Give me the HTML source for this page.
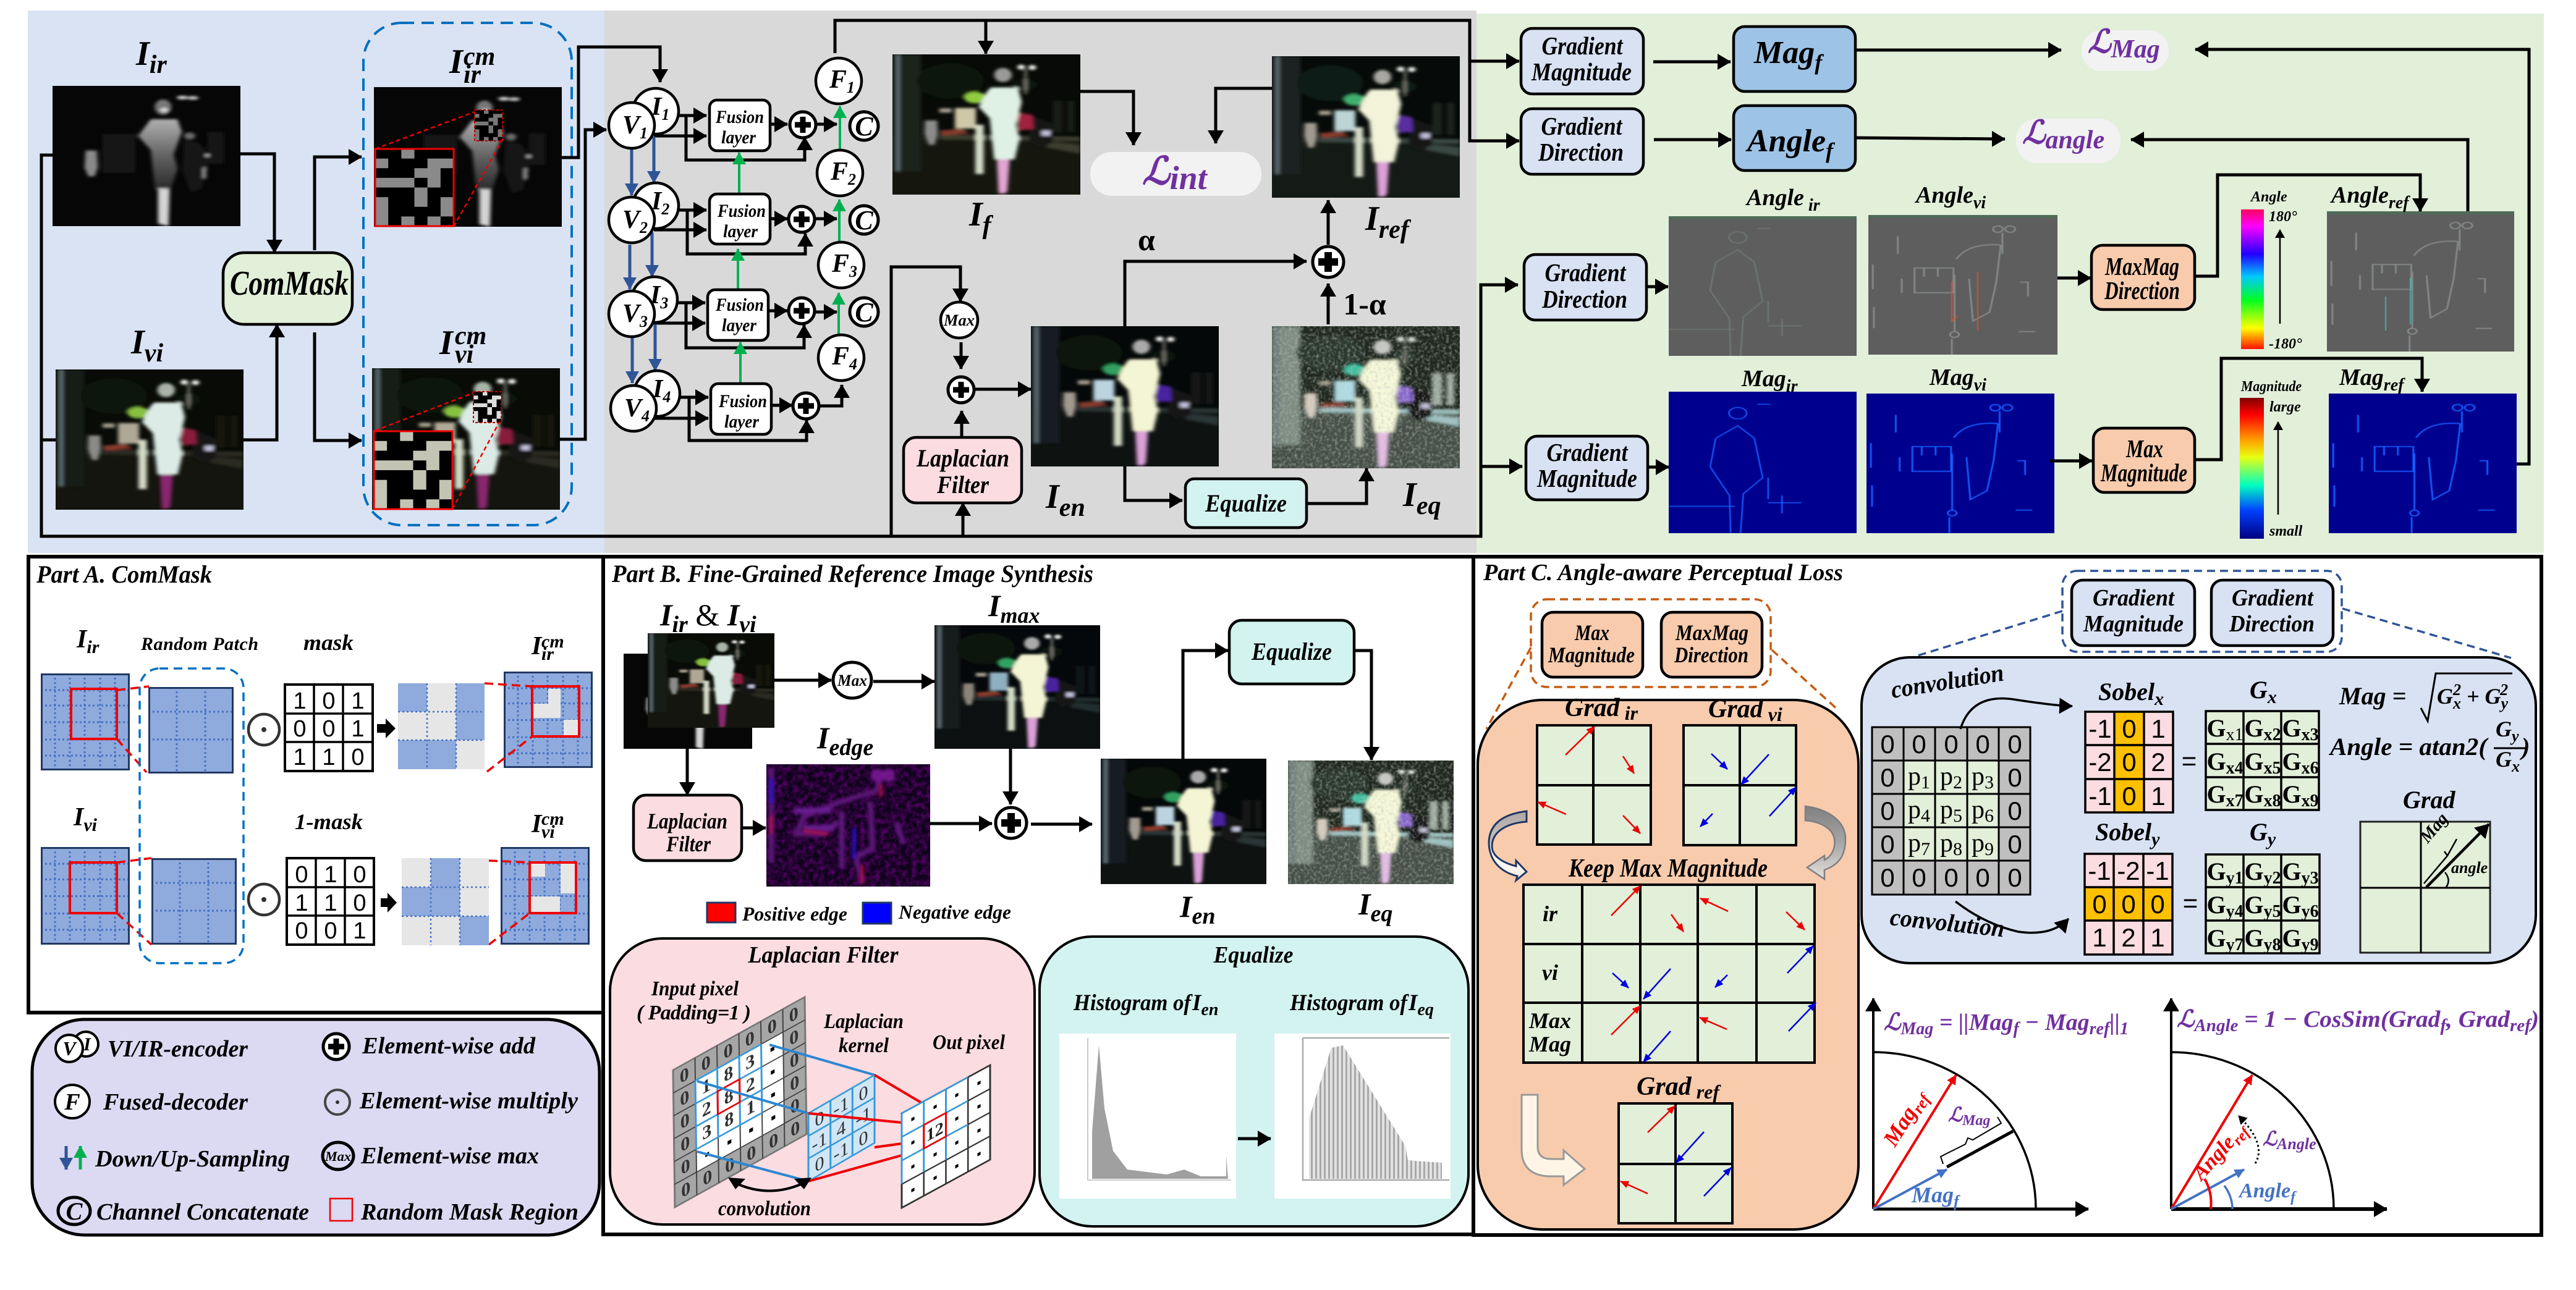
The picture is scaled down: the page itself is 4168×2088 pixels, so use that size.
<!DOCTYPE html>
<html><head><meta charset="utf-8"><style>
html,body{margin:0;padding:0;background:#fff}
svg{display:block}
.b{font-family:"Liberation Serif","DejaVu Serif",serif;font-style:italic;font-weight:bold}
.r{font-family:"Liberation Serif","DejaVu Serif",serif;font-weight:bold}
.s{font-family:"Liberation Sans","DejaVu Sans",sans-serif}
.m{text-anchor:middle}
.l{stroke:#000;stroke-width:5;fill:none}
.bx{stroke:#000;stroke-width:4.5}
.pu{fill:#7030a0}
</style></head><body>
<svg xmlns="http://www.w3.org/2000/svg" width="4168" height="2088" viewBox="0 0 4168 2088">
<defs>
<marker id="a" markerUnits="userSpaceOnUse" markerWidth="22" markerHeight="26" viewBox="0 0 22 26" refX="21" refY="13" orient="auto"><path d="M0 0L22 13L0 26z"/></marker>
<marker id="ab" markerUnits="userSpaceOnUse" markerWidth="20" markerHeight="22" viewBox="0 0 20 22" refX="19" refY="11" orient="auto"><path d="M0 0L20 11L0 22z" fill="#2f5597"/></marker>
<marker id="ag" markerUnits="userSpaceOnUse" markerWidth="20" markerHeight="22" viewBox="0 0 20 22" refX="19" refY="11" orient="auto"><path d="M0 0L20 11L0 22z" fill="#00b050"/></marker>
<marker id="ar" markerUnits="userSpaceOnUse" markerWidth="14" markerHeight="12" viewBox="0 0 14 12" refX="13" refY="6" orient="auto"><path d="M0 0L14 6L0 12z" fill="#e00"/></marker>
<marker id="au" markerUnits="userSpaceOnUse" markerWidth="14" markerHeight="12" viewBox="0 0 14 12" refX="13" refY="6" orient="auto"><path d="M0 0L14 6L0 12z" fill="#00d"/></marker>
<marker id="as" markerUnits="userSpaceOnUse" markerWidth="14" markerHeight="16" viewBox="0 0 14 16" refX="13" refY="8" orient="auto"><path d="M0 0L14 8L0 16z"/></marker>
<marker id="al" markerUnits="userSpaceOnUse" markerWidth="16" markerHeight="16" viewBox="0 0 16 16" refX="15" refY="8" orient="auto"><path d="M0 0L16 8L0 16z" fill="#4472c4"/></marker>
<marker id="are" markerUnits="userSpaceOnUse" markerWidth="16" markerHeight="16" viewBox="0 0 16 16" refX="15" refY="8" orient="auto"><path d="M0 0L16 8L0 16z" fill="#e00"/></marker>
<filter id="bl" x="-5%" y="-5%" width="110%" height="110%"><feGaussianBlur stdDeviation="3.500"/></filter>
<filter id="bs" x="-10%" y="-10%" width="120%" height="120%"><feGaussianBlur stdDeviation="1"/></filter>
<filter id="be" x="-5%" y="-5%" width="110%" height="110%"><feGaussianBlur stdDeviation="3"/></filter>
<filter id="noi" x="0" y="0" width="100%" height="100%"><feTurbulence type="fractalNoise" baseFrequency=".2" numOctaves="2" seed="4"/><feColorMatrix values="0 0 0 0 .5  0 0 0 0 .56  0 0 0 0 .52  1.2 0 0 0 -.52"/></filter>
<filter id="noe" x="0" y="0" width="100%" height="100%"><feTurbulence type="fractalNoise" baseFrequency=".12" numOctaves="2" seed="9"/><feColorMatrix values="0 0 0 0 .3  0 0 0 0 0  0 0 0 0 .42  1.2 0 0 0 -.46"/></filter>
<linearGradient id="ang" x1="0" y1="0" x2="0" y2="1"><stop offset="0" stop-color="#ff0060"/><stop offset=".12" stop-color="#ff00ff"/><stop offset=".32" stop-color="#2000ff"/><stop offset=".48" stop-color="#00c8ff"/><stop offset=".65" stop-color="#00ff20"/><stop offset=".85" stop-color="#ffff00"/><stop offset="1" stop-color="#ff1000"/></linearGradient>
<linearGradient id="mg" x1="0" y1="0" x2="0" y2="1"><stop offset="0" stop-color="#800000"/><stop offset=".12" stop-color="#ff0000"/><stop offset=".3" stop-color="#ffa000"/><stop offset=".42" stop-color="#e8ff10"/><stop offset=".62" stop-color="#00ffc0"/><stop offset=".8" stop-color="#0040ff"/><stop offset="1" stop-color="#000080"/></linearGradient>
<linearGradient id="cg" x1="0" y1="0" x2="0" y2="1"><stop offset="0" stop-color="#b0a8a4"/><stop offset=".45" stop-color="#c8c0bc"/><stop offset=".55" stop-color="#fff"/><stop offset="1" stop-color="#fbeee4"/></linearGradient>
<linearGradient id="cg2" x1="0" y1="0" x2="0" y2="1"><stop offset="0" stop-color="#808080"/><stop offset=".5" stop-color="#a6a6a6"/><stop offset="1" stop-color="#e4e0dc"/></linearGradient>
<linearGradient id="irb" x1="0" y1="0" x2="0" y2="1"><stop offset="0" stop-color="#b0b0b0"/><stop offset=".55" stop-color="#5e5e5e"/><stop offset="1" stop-color="#2a2a2a"/></linearGradient>
<pattern id="st" width="7" height="10" patternUnits="userSpaceOnUse"><rect width="7" height="10" fill="#e2e2e2"/><rect width="3" height="10" fill="#a8a8a8"/></pattern>

<symbol id="ir" viewBox="0 0 340 395" preserveAspectRatio="none">
<rect width="340" height="395" fill="#060606"/>
<g filter="url(#bl)">
<rect x="90" y="135" width="60" height="110" fill="#141414"/>
<rect x="280" y="130" width="30" height="90" fill="#121212"/>
<ellipse cx="235" cy="33" rx="10" ry="5" fill="#e0e0e0"/><ellipse cx="254" cy="34" rx="10" ry="5" fill="#d0d0d0"/>
<path d="M155 141L178 94L226 94L234 129L219 193L226 233L215 286L185 292L178 181z" fill="url(#irb)"/>
<ellipse cx="200" cy="60" rx="15" ry="22" fill="#787878"/><ellipse cx="202" cy="68" rx="7" ry="6" fill="#dcdcdc"/>
<path d="M191 289L212 289L210 395L191 388z" fill="#d4d4d4"/>
<path d="M60 182L80 182L82 230L76 255L65 255L58 230z" fill="#8a8a8a"/>
<circle cx="248" cy="141" r="10" fill="#6a6a6a"/><path d="M238 155L265 160L285 200L270 290L250 300L235 240z" fill="#161616"/>
<circle cx="280" cy="196" r="4" fill="#bbb"/><rect x="272" y="230" width="6" height="30" fill="#999"/>
</g></symbol>

<symbol id="sc" viewBox="0 0 340 395" preserveAspectRatio="none">
<rect width="340" height="395" style="fill:var(--bg)"/>
<rect y="232" width="340" height="163" style="fill:var(--rd)"/>
<g filter="url(#bl)">
<rect x="0" y="0" width="52" height="330" style="fill:var(--wl)"/>
<rect x="7" y="0" width="6" height="330" fill="#64747a"/>
<ellipse cx="105" cy="75" rx="60" ry="50" style="fill:var(--tr)"/>
<ellipse cx="240" cy="85" rx="22" ry="16" style="fill:var(--tr)"/>
<ellipse cx="150" cy="122" rx="20" ry="16" style="fill:var(--gl)"/>
<path d="M290 130h18v90h-18zM316 130h14v90h-14z" style="fill:var(--col)"/>
<path d="M279 244L340 254V280L279 262z" style="fill:var(--sw)"/>
<path d="M85 225L340 232V245L85 240z" style="fill:var(--sw)"/>
<path d="M85 152h22v12h-22z" fill="#a8a090"/>
<rect x="113" y="151" width="38" height="58" style="fill:var(--van)"/>
<path d="M85 215L125 210L140 222L90 228z" fill="#8a3a2a"/>
<path d="M59 186L81 186L82 225L76 255L66 255L58 225z" style="fill:var(--pp)"/>
<circle cx="233" cy="36" r="7" fill="#f4f4f0"/><circle cx="253" cy="37" r="7" fill="#f4f4f0"/><rect x="239" y="42" width="4" height="70" fill="#8a8a80"/>
<rect x="150" y="198" width="15" height="139" fill="#d4dcc6"/>
<path d="M253 172L290 195L290 250L262 262L246 240z" fill="#181414"/><rect x="270" y="215" width="16" height="14" fill="#c0c0d8"/>
<path d="M225 163L253 170L255 210L228 215z" style="fill:var(--bag)"/>
<path d="M171 105L178 93L227 93L234 134L224 198L230 238L221 296L184 296L176 180L156 148z" style="fill:var(--bd)"/>
<ellipse cx="200" cy="58" rx="16" ry="20" style="fill:var(--hd)"/>
<path d="M189 296L212 296L208 385L204 392L192 392z" style="fill:var(--lg)"/>
</g></symbol>

<symbol id="edA" viewBox="0 0 340 395" preserveAspectRatio="none">
<rect width="340" height="395" style="fill:var(--bg)"/>
<rect width="340" height="8" style="fill:var(--tp)"/>
<g fill="none" stroke-width="2.500" filter="url(#bs)" style="stroke:var(--ed)">
<circle cx="125" cy="60" r="16"/><path d="M160 35h24M85 130L125 95L155 130L170 240L135 285L130 395M85 130L75 210L110 290L112 395M180 240v60M205 290v50M0 320h120M180 310h60"/>
</g></symbol>

<symbol id="edB" viewBox="0 0 340 395" preserveAspectRatio="none">
<rect width="340" height="395" style="fill:var(--bg)"/>
<rect width="340" height="8" style="fill:var(--tp)"/>
<g fill="none" stroke-width="3" filter="url(#bs)" style="stroke:var(--ed)">
<circle cx="233" cy="40" r="9"/><circle cx="255" cy="40" r="9"/>
<path d="M241 50V110M158 125Q180 78 238 85M238 85L230 190L218 275L188 300L181 180M155 170V330M147 338a8 8 0 1 0 16 0a8 8 0 1 0 -16 0M83 150h70v70H83zM8 140V210M53 60V110M273 190h14v40M60 180v40M100 150v25M125 150v25M10 260V320M150 395V350M270 330h30"/>
</g></symbol>

<symbol id="chk" viewBox="0 0 6 8" preserveAspectRatio="none">
<path d="M0 0h2v1h-2zM3 0h3v1h-3zM1 1h1v1h-1zM2 1h2v1h-2zM0 2h3v1h-3zM5 2h1v1h-1zM3 3h1v1h-1zM5 3h1v1h-1zM0 4h3v1h-3zM4 4h2v1h-2zM1 5h2v1h-2zM4 5h1v1h-1zM1 6h4v1h-4zM1 7h1v1h-1zM3 7h1v1h-1zM5 7h1v1h-1z" fill="#000"/>
</symbol>

<symbol id="tile" viewBox="0 0 144 157" preserveAspectRatio="none">
<rect width="144" height="157" fill="#8faadc"/>
<path d="M23 0V157M47 0V157M71 0V157M96 0V157M120 0V157M0 27H144M0 52H144M0 79H144M0 107H144M0 133H144" stroke="#4472c4" stroke-width="3" stroke-dasharray="3 4"/>
<rect x="1.500" y="1.500" width="141" height="154" fill="none" stroke="#203864" stroke-width="3"/>
</symbol>
<symbol id="pat" viewBox="0 0 138 140" preserveAspectRatio="none">
<rect width="138" height="140" fill="#8faadc"/>
<path d="M46 0V140M92 0V140M0 40H138M0 85H138" stroke="#4472c4" stroke-width="3" stroke-dasharray="3 4"/>
<rect x="1.500" y="1.500" width="135" height="137" fill="none" stroke="#203864" stroke-width="3"/>
</symbol>

<g id="p"><circle r="21" fill="#fff" stroke="#000" stroke-width="5"/><path d="M-4.500 -13h9v8.500h8.500v9h-8.500v8.500h-9v-8.500h-8.500v-9h8.500z"/></g>
<g id="pb"><circle r="25" fill="#fff" stroke="#000" stroke-width="5"/><path d="M-6 -16h12v10h10v12h-10v10h-12v-10h-10v-12h10z"/></g>
<g id="od"><circle r="25" fill="#fff" stroke="#333" stroke-width="4.500"/><circle r="4" fill="#333"/></g>
<g id="cc"><circle r="23" fill="#fff" stroke="#000" stroke-width="5"/><text class="b m" y="15" font-size="44">C</text></g>
</defs>

<rect width="4168" height="2088" fill="#fff"/>
<!-- panels -->
<rect x="45" y="17" width="933" height="878" fill="#dae3f3"/>
<rect x="978" y="17" width="1411" height="878" fill="#d9d9d9"/>
<rect x="2389" y="22" width="1727" height="873" fill="#e2efd9"/>

<!-- left images -->
<use href="#ir" x="85" y="139" width="304" height="227"/>
<use href="#sc" x="90" y="598" width="304" height="227" style="--bg:#080b06;--rd:#14150e;--wl:#181c14;--tr:#10180a;--gl:#88c040;--col:#141410;--sw:#2c2c20;--van:#b0a896;--pp:#8a8a88;--bag:#8a1a3c;--bd:#dcebe6;--hd:#a8b4a8;--lg:#8a2870"/>
<use href="#ir" x="605" y="141" width="304" height="226"/>
<use href="#sc" x="602" y="596" width="304" height="229" style="--bg:#080b06;--rd:#14150e;--wl:#181c14;--tr:#10180a;--gl:#88c040;--col:#141410;--sw:#2c2c20;--van:#b0a896;--pp:#8a8a88;--bag:#8a1a3c;--bd:#dcebe6;--hd:#a8b4a8;--lg:#8a2870"/>
<text class="b" x="220" y="105" font-size="56">I<tspan dy="13" font-size="42">ir</tspan></text>
<text class="b" x="212" y="572" font-size="56">I<tspan dy="13" font-size="42">vi</tspan></text>
<text class="b" x="727" y="118" font-size="56">I</text><text class="b" x="750" y="105" font-size="42">cm</text><text class="b" x="750" y="134" font-size="42">ir</text>
<text class="b" x="711" y="573" font-size="56">I</text><text class="b" x="736" y="557" font-size="42">cm</text><text class="b" x="736" y="587" font-size="42">vi</text>

<rect x="607" y="241" width="127" height="125" fill="#8a8a8a"/><use href="#chk" x="607" y="241" width="127" height="125"/>
<rect x="607" y="241" width="127" height="125" fill="none" stroke="#e00" stroke-width="3"/>
<rect x="768" y="178" width="45" height="50" fill="#777"/><use href="#chk" x="768" y="178" width="45" height="50"/>
<rect x="768" y="178" width="45" height="50" fill="none" stroke="#b00" stroke-width="2" stroke-dasharray="4 3"/>
<path d="M607 241L768 181M734 367L814 224" stroke="#e00" stroke-width="2.500" stroke-dasharray="7 5" fill="none"/>
<rect x="605" y="698" width="127" height="126" fill="#c4c4b4"/><use href="#chk" x="605" y="698" width="127" height="126"/>
<rect x="605" y="698" width="127" height="126" fill="none" stroke="#e00" stroke-width="3"/>
<rect x="766" y="634" width="45" height="50" fill="#ddd"/><use href="#chk" x="766" y="634" width="45" height="50"/>
<rect x="766" y="634" width="45" height="50" fill="none" stroke="#b00" stroke-width="2" stroke-dasharray="4 3"/>
<path d="M607 697L766 636M732 824L808 683" stroke="#e00" stroke-width="2.500" stroke-dasharray="7 5" fill="none"/>
<rect x="588" y="37" width="337" height="813" rx="62" fill="none" stroke="#0070c0" stroke-width="4" stroke-dasharray="20 12"/>
<rect x="361" y="409" width="209" height="116" rx="34" fill="#e2efd9" class="bx"/>
<text class="b m" x="468" y="477" font-size="56" textLength="192" lengthAdjust="spacingAndGlyphs">ComMask</text>

<!-- left connectors -->
<path class="l" d="M389 249H444V409" marker-end="url(#a)"/>
<path class="l" d="M394 712H448V525" marker-end="url(#a)"/>
<path class="l" d="M509 405V254H585" marker-end="url(#a)"/>
<path class="l" d="M509 538V713H585" marker-end="url(#a)"/>
<path class="l" d="M85 251H67V868H1561M67 712H90"/>
<path class="l" d="M1442 868H2396V461H2456" marker-end="url(#a)"/>
<path class="l" d="M2396 755H2463" marker-end="url(#a)"/>
<path class="l" d="M909 255H936V76H1068V133" marker-end="url(#a)"/>
<path class="l" d="M906 711H947V210H981" marker-end="url(#a)"/>

<!-- encoder connectors -->
<g id="rows">
<path class="l" d="M1098 187H1143" marker-end="url(#a)"/><path class="l" d="M1058 220H1143" marker-end="url(#a)"/>
<path class="l" d="M1110 187V259H1302V222" marker-end="url(#a)"/><path class="l" d="M1246 201H1274" marker-end="url(#a)"/><path class="l" d="M1322 201H1354" marker-end="url(#a)"/>
<path class="l" d="M1098 340H1143" marker-end="url(#a)"/><path class="l" d="M1058 372H1143" marker-end="url(#a)"/>
<path class="l" d="M1112 340V411H1303V378" marker-end="url(#a)"/><path class="l" d="M1246 354H1274" marker-end="url(#a)"/><path class="l" d="M1320 354H1354" marker-end="url(#a)"/>
<path class="l" d="M1096 490H1141" marker-end="url(#a)"/><path class="l" d="M1056 523H1141" marker-end="url(#a)"/>
<path class="l" d="M1110 490V563H1301V526" marker-end="url(#a)"/><path class="l" d="M1243 503H1274" marker-end="url(#a)"/><path class="l" d="M1320 505H1354" marker-end="url(#a)"/>
<path class="l" d="M1100 643H1146" marker-end="url(#a)"/><path class="l" d="M1060 677H1146" marker-end="url(#a)"/>
<path class="l" d="M1115 643V713H1305V680" marker-end="url(#a)"/><path class="l" d="M1248 656H1282" marker-end="url(#a)"/><path class="l" d="M1327 657H1362V623" marker-end="url(#a)"/>
</g>
<g fill="none" stroke="#2f5597" stroke-width="5">
<path d="M1022 241V316" marker-end="url(#ab)"/><path d="M1058 221V296" marker-end="url(#ab)"/>
<path d="M1019 396V468" marker-end="url(#ab)"/><path d="M1055 376V448" marker-end="url(#ab)"/>
<path d="M1023 545V620" marker-end="url(#ab)"/><path d="M1060 525V600" marker-end="url(#ab)"/>
</g>
<g fill="none" stroke="#00b050" stroke-width="4">
<path d="M1196 313V247" marker-end="url(#ag)"/><path d="M1194 468V403" marker-end="url(#ag)"/><path d="M1198 620V554" marker-end="url(#ag)"/>
<path d="M1359 241V172" marker-end="url(#ag)"/><path d="M1358 390V323" marker-end="url(#ag)"/><path d="M1357 541V474" marker-end="url(#ag)"/>
</g>
<!-- encoder circles -->
<g fill="#fff" stroke="#000" stroke-width="4.500">
<circle cx="1061" cy="180" r="37"/><circle cx="1022" cy="203" r="37"/>
<circle cx="1061" cy="333" r="37"/><circle cx="1022" cy="356" r="37"/>
<circle cx="1059" cy="485" r="37"/><circle cx="1022" cy="508" r="37"/>
<circle cx="1063" cy="637" r="37"/><circle cx="1025" cy="661" r="37"/>
<circle cx="1357" cy="131" r="37"/><circle cx="1359" cy="280" r="37"/><circle cx="1361" cy="429" r="37"/><circle cx="1361" cy="579" r="37"/>
<rect x="1148" y="162" width="98" height="82" rx="12"/><rect x="1148" y="314" width="98" height="81" rx="12"/><rect x="1145" y="469" width="98" height="82" rx="12"/><rect x="1150" y="621" width="98" height="82" rx="12"/>
</g>
<g class="b" font-size="42">
<text x="1054" y="186">I<tspan dy="8" font-size="26">1</tspan></text><text x="1007" y="216">V<tspan dy="8" font-size="26">1</tspan></text>
<text x="1054" y="339">I<tspan dy="8" font-size="26">2</tspan></text><text x="1007" y="369">V<tspan dy="8" font-size="26">2</tspan></text>
<text x="1052" y="491">I<tspan dy="8" font-size="26">3</tspan></text><text x="1007" y="521">V<tspan dy="8" font-size="26">3</tspan></text>
<text x="1056" y="643">I<tspan dy="8" font-size="26">4</tspan></text><text x="1010" y="674">V<tspan dy="8" font-size="26">4</tspan></text>
<text x="1342" y="142">F<tspan dy="8" font-size="26">1</tspan></text><text x="1344" y="291">F<tspan dy="8" font-size="26">2</tspan></text><text x="1346" y="440">F<tspan dy="8" font-size="26">3</tspan></text><text x="1346" y="590">F<tspan dy="8" font-size="26">4</tspan></text>
</g>
<g class="b m" font-size="30">
<text x="1197" y="199" textLength="78" lengthAdjust="spacingAndGlyphs">Fusion</text><text x="1195" y="232" textLength="56" lengthAdjust="spacingAndGlyphs">layer</text>
<text x="1200" y="351" textLength="78" lengthAdjust="spacingAndGlyphs">Fusion</text><text x="1198" y="384" textLength="56" lengthAdjust="spacingAndGlyphs">layer</text>
<text x="1197" y="503" textLength="78" lengthAdjust="spacingAndGlyphs">Fusion</text><text x="1196" y="536" textLength="56" lengthAdjust="spacingAndGlyphs">layer</text>
<text x="1202" y="659" textLength="78" lengthAdjust="spacingAndGlyphs">Fusion</text><text x="1200" y="692" textLength="56" lengthAdjust="spacingAndGlyphs">layer</text>
</g>
<use href="#p" x="1299" y="202"/><use href="#p" x="1297" y="355"/><use href="#p" x="1297" y="503"/><use href="#p" x="1304" y="657"/>
<use href="#cc" x="1398" y="204"/><use href="#cc" x="1398" y="356"/><use href="#cc" x="1398" y="505"/>

<!-- middle -->
<path class="l" d="M1351 86V33H2378V228H2458" marker-end="url(#a)"/>
<path class="l" d="M2378 99H2458" marker-end="url(#a)"/>
<path class="l" d="M1595 33V87" marker-end="url(#a)"/>
<use href="#sc" x="1444" y="88" width="304" height="227" style="--bg:#070a06;--rd:#15170f;--wl:#1c201a;--tr:#0e1809;--gl:#90cc40;--col:#181a12;--sw:#3e3e2e;--van:#cfc8a8;--pp:#8c8c8c;--bag:#a02040;--bd:#dff0e4;--hd:#9a9a98;--lg:#e4a4d4"/>
<use href="#sc" x="2058" y="91" width="304" height="229" style="--bg:#060a08;--rd:#141a16;--wl:#1e2422;--tr:#0c1a12;--gl:#40b070;--col:#1c201a;--sw:#3a4844;--van:#bcd4d4;--pp:#a09a90;--bag:#5a2fa0;--bd:#f2f3d8;--hd:#a8a8a0;--lg:#dca0d8"/>
<use href="#sc" x="1668" y="528" width="304" height="227" style="--bg:#050808;--rd:#0e1211;--wl:#181e20;--tr:#0a1810;--gl:#30a060;--col:#141816;--sw:#2c3634;--van:#bcd4e0;--pp:#a09a90;--bag:#4a20a0;--bd:#f4f5d4;--hd:#aaa;--lg:#dca0d8"/>
<use href="#sc" x="2058" y="528" width="304" height="230" style="--bg:#20281f;--rd:#465048;--wl:#7e8c82;--tr:#2c382e;--gl:#40c0a0;--col:#a0aca0;--sw:#9cc0c0;--van:#b0dce4;--pp:#d8ccc0;--bag:#8a68d0;--bd:#f6f8d8;--hd:#c8c8c4;--lg:#e8bce8"/>
<rect x="2058" y="528" width="304" height="230" filter="url(#noi)"/>
<rect x="1764" y="246" width="277" height="71" rx="35" fill="#f2f2f2"/>
<text class="b pu" x="1848" y="298" font-size="62">ℒ<tspan dy="8" font-size="54">int</tspan></text>
<path class="l" d="M1748 148H1834V235" marker-end="url(#a)"/>
<path class="l" d="M2058 143H1967V232" marker-end="url(#a)"/>
<text class="b" x="1568" y="365" font-size="56">I<tspan dy="13" font-size="42">f</tspan></text>
<text class="b" x="2209" y="372" font-size="56">I<tspan dy="13" font-size="42">ref</tspan></text>
<text class="r m" x="1855" y="405" font-size="50">α</text>
<text class="r m" x="2208" y="509" font-size="50">1-α</text>
<use href="#pb" x="2149" y="424"/>
<path class="l" d="M1820 528V423H2114" marker-end="url(#a)"/>
<path class="l" d="M2149 525V459" marker-end="url(#a)"/>
<path class="l" d="M2149 396V324" marker-end="url(#a)"/>
<path class="l" d="M1442 868V432H1554V488" marker-end="url(#a)"/>
<ellipse cx="1552" cy="518" rx="30" ry="29" fill="#fff" stroke="#000" stroke-width="4.500"/>
<text class="b m" x="1552" y="527" font-size="26" textLength="50" lengthAdjust="spacingAndGlyphs">Max</text>
<path class="l" d="M1555 554V597" marker-end="url(#a)"/>
<use href="#p" x="1555" y="631"/>
<path class="l" d="M1576 630H1668" marker-end="url(#a)"/>
<rect x="1462" y="708" width="191" height="106" rx="20" fill="#fadce1" class="bx"/>
<text class="b m" x="1558" y="755" font-size="40" textLength="150" lengthAdjust="spacingAndGlyphs">Laplacian</text><text class="b m" x="1558" y="798" font-size="40" textLength="84" lengthAdjust="spacingAndGlyphs">Filter</text>
<path class="l" d="M1556 708V665" marker-end="url(#a)"/>
<path class="l" d="M1558 868V814" marker-end="url(#a)"/>
<path class="l" d="M1820 755V810H1913" marker-end="url(#a)"/>
<rect x="1918" y="775" width="196" height="79" rx="14" fill="#d3f3f0" class="bx"/>
<text class="b m" x="2016" y="828" font-size="40" textLength="132" lengthAdjust="spacingAndGlyphs">Equalize</text>
<path class="l" d="M2114 815H2211V758" marker-end="url(#a)"/>
<text class="b" x="1692" y="822" font-size="56">I<tspan dy="13" font-size="42">en</tspan></text>
<text class="b" x="2270" y="819" font-size="56">I<tspan dy="13" font-size="42">eq</tspan></text>

<!-- right -->
<g fill="#d9e2f3" class="bx">
<rect x="2461" y="46" width="198" height="106" rx="18"/><rect x="2461" y="176" width="198" height="106" rx="18"/>
<rect x="2466" y="412" width="198" height="106" rx="18"/><rect x="2469" y="706" width="197" height="103" rx="18"/>
</g>
<g class="b m" font-size="41">
<text x="2560" y="88" textLength="131" lengthAdjust="spacingAndGlyphs">Gradient</text><text x="2559" y="130" textLength="162" lengthAdjust="spacingAndGlyphs">Magnitude</text>
<text x="2559" y="218" textLength="131" lengthAdjust="spacingAndGlyphs">Gradient</text><text x="2558" y="260" textLength="138" lengthAdjust="spacingAndGlyphs">Direction</text>
<text x="2565" y="455" textLength="131" lengthAdjust="spacingAndGlyphs">Gradient</text><text x="2564" y="498" textLength="138" lengthAdjust="spacingAndGlyphs">Direction</text>
<text x="2568" y="746" textLength="131" lengthAdjust="spacingAndGlyphs">Gradient</text><text x="2568" y="788" textLength="162" lengthAdjust="spacingAndGlyphs">Magnitude</text>
</g>
<path class="l" d="M2675 100H2800" marker-end="url(#a)"/>
<path class="l" d="M2676 226H2801" marker-end="url(#a)"/>
<path class="l" d="M2664 464H2699" marker-end="url(#a)"/>
<path class="l" d="M2666 756H2700" marker-end="url(#a)"/>
<rect x="2805" y="43" width="197" height="105" rx="18" fill="#9dc3e6" class="bx"/>
<rect x="2805" y="171" width="197" height="105" rx="18" fill="#9dc3e6" class="bx"/>
<text class="b" x="2838" y="102" font-size="52">Mag<tspan dy="11" font-size="36">f</tspan></text>
<text class="b" x="2827" y="245" font-size="52">Angle<tspan dy="11" font-size="36">f</tspan></text>
<rect x="3368" y="49" width="141" height="66" rx="32" fill="#f2f2f2"/>
<rect x="3262" y="192" width="169" height="72" rx="34" fill="#f2f2f2"/>
<text class="b pu" x="3378" y="85" font-size="52">ℒ<tspan dy="8" font-size="42">Mag</tspan></text>
<text class="b pu" x="3272" y="232" font-size="52">ℒ<tspan dy="8" font-size="42">angle</tspan></text>
<path class="l" d="M3002 81H3335" marker-end="url(#a)"/>
<path class="l" d="M3002 223L3244 225" marker-end="url(#a)"/>
<path class="l" d="M4072 751H4092V80H3552" marker-end="url(#a)"/>
<path class="l" d="M3993 344V226H3448" marker-end="url(#a)"/>

<g style="--bg:#5e5e5e;--tp:#4e6c58;--ed:#6e7a72"><use href="#edA" x="2700" y="350" width="304" height="226"/></g>
<g style="--bg:#5e5e5e;--tp:#4e6c58;--ed:#868c8a"><use href="#edB" x="3023" y="348" width="306" height="226"/><use href="#edB" x="3765" y="342" width="303" height="227"/></g>
<g style="--bg:#00008e;--tp:#00008e;--ed:#1760ff"><use href="#edA" x="2700" y="634" width="304" height="229"/><use href="#edB" x="3020" y="637" width="304" height="226"/><use href="#edB" x="3768" y="637" width="304" height="226"/></g>
<path d="M3158 455V520l8-8M3200 440V535" stroke="#e05030" stroke-width="2.500" fill="none" opacity=".7"/>
<path d="M3900 450V525M3860 480V535" stroke="#40c8c0" stroke-width="2.500" fill="none" opacity=".6"/>

<g class="b" font-size="38">
<text x="2826" y="332">Angle<tspan dy="9" font-size="28"> ir</tspan></text>
<text x="3100" y="328">Angle<tspan dy="9" font-size="28">vi</tspan></text>
<text x="3772" y="328">Angle<tspan dy="9" font-size="28">ref</tspan></text>
<text x="2818" y="625">Mag<tspan dy="9" font-size="28">ir</tspan></text>
<text x="3122" y="623">Mag<tspan dy="9" font-size="28">vi</tspan></text>
<text x="3785" y="623">Mag<tspan dy="9" font-size="28">ref</tspan></text>
</g>
<rect x="3384" y="397" width="167" height="104" rx="18" fill="#f8cbad" class="bx"/>
<rect x="3387" y="693" width="164" height="104" rx="18" fill="#f8cbad" class="bx"/>
<g class="b m" font-size="41">
<text x="3466" y="445" textLength="120" lengthAdjust="spacingAndGlyphs">MaxMag</text><text x="3466" y="484" textLength="122" lengthAdjust="spacingAndGlyphs">Direction</text>
<text x="3470" y="740" textLength="60" lengthAdjust="spacingAndGlyphs">Max</text><text x="3469" y="779" textLength="140" lengthAdjust="spacingAndGlyphs">Magnitude</text>
</g>
<path class="l" d="M3329 450H3383" marker-end="url(#a)"/>
<path class="l" d="M3317 746H3385" marker-end="url(#a)"/>
<path class="l" d="M3551 447H3588V283H3916V342" marker-end="url(#a)"/>
<path class="l" d="M3551 744H3594V580H3919V634" marker-end="url(#a)"/>
<rect x="3626" y="339" width="37" height="226" fill="url(#ang)"/>
<rect x="3624" y="644" width="39" height="228" fill="url(#mg)"/>
<path d="M3689 524V372" stroke="#000" stroke-width="2.500" marker-end="url(#as)" fill="none"/>
<path d="M3686 833V683" stroke="#000" stroke-width="2.500" marker-end="url(#as)" fill="none"/>
<g class="b" font-size="24">
<text x="3642" y="326">Angle</text><text x="3671" y="358">180°</text><text x="3671" y="564">-180°</text>
<text x="3626" y="633" textLength="98" lengthAdjust="spacingAndGlyphs">Magnitude</text><text x="3672" y="666">large</text><text x="3672" y="867">small</text>
</g>

<!-- Part boxes -->
<g fill="none" stroke="#000" stroke-width="6">
<rect x="46" y="901" width="930" height="738"/>
<rect x="976" y="901" width="1408" height="1097"/>
<rect x="2384" y="901" width="1728" height="1098"/>
</g>

<!-- Part A -->
<text class="b" x="59" y="943" font-size="40" textLength="284" lengthAdjust="spacingAndGlyphs">Part A. ComMask</text>
<use href="#tile" x="66" y="1090" width="144" height="157"/><use href="#tile" x="66" y="1371" width="144" height="158"/>
<use href="#tile" x="815" y="1087" width="144" height="156"/><use href="#tile" x="810" y="1371" width="144" height="158"/>
<use href="#pat" x="240" y="1112" width="138" height="140"/><use href="#pat" x="245" y="1389" width="138" height="140"/>
<path d="M863 1139H887V1115H907V1162H863zM912 1165h23v27h-23zM858 1398h24v21h-24zM907 1398h23v48h-23zM858 1451h48v25h-48z" fill="#e7e6e6"/>
<g fill="none" stroke="#e00" stroke-width="4">
<rect x="115" y="1115" width="74" height="81"/><rect x="113" y="1396" width="76" height="82"/>
<rect x="861" y="1111" width="76" height="81"/><rect x="857" y="1396" width="75" height="82"/>
<path stroke-dasharray="14 8" d="M189 1117L241 1111M189 1196L237 1250M189 1396L245 1389M189 1478L245 1529M784 1106L861 1111M788 1249L861 1192M791 1393L857 1396M791 1529L857 1478" stroke-width="3.500"/>
</g>
<rect x="226" y="1082" width="168" height="477" rx="32" fill="none" stroke="#0070c0" stroke-width="3.500" stroke-dasharray="14 9"/>
<use href="#od" x="427" y="1181"/><use href="#od" x="427" y="1456"/>
<g fill="#fff" stroke="#000" stroke-width="4">
<rect x="461" y="1108" width="142" height="140"/><rect x="464" y="1389" width="141" height="140"/>
</g>
<path d="M508 1108V1248M555 1108V1248M461 1155H603M461 1201H603M511 1389V1529M558 1389V1529M464 1436H605M464 1482H605" stroke="#000" stroke-width="3.500"/>
<g class="s m" font-size="38">
<text x="485" y="1147">1</text><text x="532" y="1147">0</text><text x="579" y="1147">1</text>
<text x="485" y="1192">0</text><text x="532" y="1192">0</text><text x="579" y="1192">1</text>
<text x="485" y="1238">1</text><text x="532" y="1238">1</text><text x="579" y="1238">0</text>
<text x="488" y="1428">0</text><text x="535" y="1428">1</text><text x="582" y="1428">0</text>
<text x="488" y="1474">1</text><text x="535" y="1474">1</text><text x="582" y="1474">0</text>
<text x="488" y="1519">0</text><text x="535" y="1519">0</text><text x="582" y="1519">1</text>
</g>
<path d="M610 1172h14v-9l16 16l-16 16v-9h-14z"/><path d="M616 1454h11v-9l15 16l-15 16v-9h-11z"/>
<!-- masked patches -->
<g fill="#8faadc">
<rect x="644" y="1106" width="140" height="139"/>
<rect x="650" y="1389" width="141" height="141"/>
</g>
<g fill="#e7e6e6">
<rect x="691" y="1106" width="47" height="46"/><rect x="644" y="1152" width="47" height="46"/><rect x="691" y="1152" width="47" height="46"/><rect x="738" y="1198" width="46" height="47"/>
<rect x="650" y="1389" width="47" height="47"/><rect x="744" y="1389" width="47" height="47"/><rect x="744" y="1436" width="47" height="47"/><rect x="650" y="1483" width="47" height="47"/><rect x="697" y="1483" width="47" height="47"/>
</g>
<path d="M691 1106V1245M738 1106V1245M644 1152H784M644 1198H784M697 1389V1530M744 1389V1530M650 1436H791M650 1483H791" stroke="#4472c4" stroke-width="2.500" stroke-dasharray="3 4"/>
<g class="b">
<text x="124" y="1048" font-size="42">I<tspan dy="9" font-size="30">ir</tspan></text>
<text x="119" y="1336" font-size="42">I<tspan dy="9" font-size="30">vi</tspan></text>
<text x="228" y="1052" font-size="30" textLength="190" lengthAdjust="spacing">Random Patch</text>
<text x="491" y="1052" font-size="36" textLength="81" lengthAdjust="spacingAndGlyphs">mask</text>
<text x="477" y="1342" font-size="36" textLength="110" lengthAdjust="spacingAndGlyphs">1-mask</text>
<text x="860" y="1059" font-size="42">I</text><text x="876" y="1048" font-size="30">cm</text><text x="876" y="1068" font-size="30">ir</text>
<text x="860" y="1347" font-size="42">I</text><text x="876" y="1335" font-size="30">cm</text><text x="876" y="1356" font-size="30">vi</text>
</g>

<!-- Legend -->
<rect x="52" y="1650" width="918" height="349" rx="85" fill="#dcd9f2" stroke="#000" stroke-width="5"/>
<circle cx="139" cy="1690" r="20" fill="#fff" stroke="#000" stroke-width="4"/><circle cx="112" cy="1697" r="22" fill="#fff" stroke="#000" stroke-width="4"/>
<text class="b m" x="141" y="1700" font-size="30">I</text><text class="b m" x="112" y="1708" font-size="32">V</text>
<g class="b" font-size="38">
<text x="174" y="1710" textLength="227" lengthAdjust="spacingAndGlyphs">VI/IR-encoder</text>
<text x="586" y="1705" textLength="280" lengthAdjust="spacingAndGlyphs">Element-wise add</text>
<text x="167" y="1796" textLength="234" lengthAdjust="spacingAndGlyphs">Fused-decoder</text>
<text x="582" y="1794" textLength="353" lengthAdjust="spacingAndGlyphs">Element-wise multiply</text>
<text x="154" y="1888" textLength="315" lengthAdjust="spacingAndGlyphs">Down/Up-Sampling</text>
<text x="584" y="1883" textLength="288" lengthAdjust="spacingAndGlyphs">Element-wise max</text>
<text x="156" y="1974" textLength="344" lengthAdjust="spacingAndGlyphs">Channel Concatenate</text>
<text x="584" y="1974" textLength="352" lengthAdjust="spacingAndGlyphs">Random Mask Region</text>
</g>
<use href="#p" x="544" y="1694"/>
<ellipse cx="117" cy="1783" rx="28" ry="27" fill="#fff" stroke="#000" stroke-width="4"/><text class="b m" x="117" y="1796" font-size="38">F</text>
<circle cx="546" cy="1784" r="20" fill="#fff" fill-opacity="0" stroke="#444" stroke-width="4"/><circle cx="546" cy="1784" r="3" fill="#333"/>
<path d="M107 1855V1893" stroke="#2f5597" stroke-width="5" fill="none" marker-end="url(#ab)"/>
<path d="M130 1893V1855" stroke="#00b050" stroke-width="5" fill="none" marker-end="url(#ag)"/>
<ellipse cx="547" cy="1871" rx="25" ry="22" fill="#fff" fill-opacity="0" stroke="#000" stroke-width="5"/><text class="b m" x="547" y="1879" font-size="22" textLength="42" lengthAdjust="spacingAndGlyphs">Max</text>
<ellipse cx="120" cy="1960" rx="26" ry="22" fill="#fff" fill-opacity="0" stroke="#000" stroke-width="5"/><text class="b m" x="120" y="1974" font-size="40">C</text>
<rect x="534" y="1940" width="36" height="36" fill="none" stroke="#e00" stroke-width="2.500"/>

<!-- Part B -->
<text class="b" x="990" y="942" font-size="40" textLength="779" lengthAdjust="spacingAndGlyphs">Part B. Fine-Grained Reference Image Synthesis</text>
<use href="#ir" x="1009" y="1058" width="208" height="154"/>
<use href="#sc" x="1048" y="1025" width="205" height="153" style="--bg:#080b06;--rd:#14150e;--wl:#181c14;--tr:#10180a;--gl:#88c040;--col:#141410;--sw:#2c2c20;--van:#b0a896;--pp:#8a8a88;--bag:#8a1a3c;--bd:#dcebe6;--hd:#a8b4a8;--lg:#8a2870"/>
<text class="b" x="1068" y="1012" font-size="50">I<tspan dy="11" font-size="38">ir</tspan><tspan dy="-11" font-size="50" style="font-style:normal;font-weight:normal"> &amp; </tspan>I<tspan dy="11" font-size="38">vi</tspan></text>
<path class="l" d="M1253 1101H1345" marker-end="url(#a)"/>
<ellipse cx="1379" cy="1101" rx="31" ry="29" fill="#fff" stroke="#000" stroke-width="5"/><text class="b m" x="1379" y="1110" font-size="26" textLength="48" lengthAdjust="spacingAndGlyphs">Max</text>
<path class="l" d="M1413 1103H1512" marker-end="url(#a)"/>
<use href="#sc" x="1512" y="1012" width="268" height="200" style="--bg:#05080a;--rd:#0c1010;--wl:#161c1e;--tr:#0a1810;--gl:#30a060;--col:#101416;--sw:#242e2e;--van:#8fb0c0;--pp:#8a8478;--bag:#4a20a0;--bd:#f4f5d4;--hd:#aaa;--lg:#dca0d8"/>
<text class="b" x="1599" y="997" font-size="50">I<tspan dy="11" font-size="36">max</tspan></text>
<path class="l" d="M1112 1212V1287" marker-end="url(#a)"/>
<rect x="1025" y="1287" width="175" height="106" rx="20" fill="#fadce1" class="bx"/>
<text class="b m" x="1112" y="1341" font-size="36" textLength="130" lengthAdjust="spacingAndGlyphs">Laplacian</text><text class="b m" x="1114" y="1378" font-size="36" textLength="72" lengthAdjust="spacingAndGlyphs">Filter</text>
<path class="l" d="M1200 1340H1239" marker-end="url(#a)"/>
<rect x="1240" y="1237" width="265" height="198" fill="#10021c"/>
<rect x="1240" y="1237" width="265" height="198" filter="url(#noe)"/>
<g fill="none" stroke="#5c1278" stroke-width="9" filter="url(#be)">
<path d="M1425 1262L1418 1280L1375 1293L1355 1300L1302 1320L1288 1350L1332 1350L1355 1330M1408 1297L1412 1373L1385 1387L1395 1430M1248 1243V1397M1450 1330L1462 1365M1362 1313V1403" />
<path d="M1285 1312H1345M1300 1340H1350" stroke="#681a90" stroke-width="10"/>
<circle cx="1420" cy="1255" r="6" stroke="#761890"/><circle cx="1438" cy="1255" r="6" stroke="#761890"/>
</g>
<path d="M1248 1320V1350M1425 1270V1290M1395 1400V1430M1300 1345L1340 1350" stroke="#b01040" stroke-width="5" fill="none" filter="url(#be)"/>
<path d="M1382 1340V1390M1248 1260V1300" stroke="#2810c0" stroke-width="6" fill="none" filter="url(#be)"/>
<text class="b" x="1322" y="1211" font-size="50">I<tspan dy="11" font-size="38">edge</tspan></text>
<path class="l" d="M1505 1333H1605" marker-end="url(#a)"/>
<use href="#pb" x="1636" y="1332"/>
<path class="l" d="M1635 1212V1302" marker-end="url(#a)"/>
<path class="l" d="M1668 1334H1767" marker-end="url(#a)"/>
<use href="#sc" x="1781" y="1228" width="268" height="203" style="--bg:#050808;--rd:#0e1211;--wl:#181e20;--tr:#0a1810;--gl:#30a060;--col:#141816;--sw:#2c3634;--van:#bcd4e0;--pp:#a09a90;--bag:#4a20a0;--bd:#f4f5d4;--hd:#aaa;--lg:#dca0d8"/>
<use href="#sc" x="2084" y="1231" width="268" height="200" style="--bg:#20281f;--rd:#465048;--wl:#7e8c82;--tr:#2c382e;--gl:#40c0a0;--col:#a0aca0;--sw:#9cc0c0;--van:#b0dce4;--pp:#d8ccc0;--bag:#8a68d0;--bd:#f6f8d8;--hd:#c8c8c4;--lg:#e8bce8"/>
<rect x="2084" y="1231" width="268" height="200" filter="url(#noi)"/>
<text class="b" x="1909" y="1484" font-size="50">I<tspan dy="11" font-size="38">en</tspan></text>
<text class="b" x="2198" y="1480" font-size="50">I<tspan dy="11" font-size="38">eq</tspan></text>
<path class="l" d="M1914 1228V1053H1987" marker-end="url(#a)"/>
<rect x="1989" y="1004" width="202" height="103" rx="20" fill="#d3f3f0" class="bx"/>
<text class="b m" x="2090" y="1068" font-size="40" textLength="130" lengthAdjust="spacingAndGlyphs">Equalize</text>
<path class="l" d="M2191 1053H2219V1230" marker-end="url(#a)"/>
<rect x="1144" y="1461" width="46" height="32" fill="#f00" stroke="#203864" stroke-width="3"/>
<rect x="1396" y="1461" width="46" height="34" fill="#00f" stroke="#203864" stroke-width="3"/>
<text class="b" x="1201" y="1490" font-size="32" textLength="170" lengthAdjust="spacingAndGlyphs">Positive edge</text>
<text class="b" x="1454" y="1487" font-size="32" textLength="182" lengthAdjust="spacingAndGlyphs">Negative edge</text>

<rect x="987" y="1519" width="687" height="463" rx="85" fill="#fadce1" stroke="#000" stroke-width="4"/>
<rect x="1682" y="1516" width="694" height="469" rx="85" fill="#d3f3f0" stroke="#000" stroke-width="4"/>
<g class="b m" font-size="38">
<text x="1332" y="1558" textLength="243" lengthAdjust="spacingAndGlyphs">Laplacian Filter</text>
<text x="2028" y="1558" textLength="129" lengthAdjust="spacingAndGlyphs">Equalize</text>
</g>
<g class="b" font-size="34">
<text x="1054" y="1611" textLength="141" lengthAdjust="spacingAndGlyphs">Input pixel</text>
<text x="1030" y="1650" textLength="185" lengthAdjust="spacing">( Padding=1 )</text>
<text x="1333" y="1664" textLength="129" lengthAdjust="spacingAndGlyphs">Laplacian</text>
<text x="1357" y="1703" textLength="81" lengthAdjust="spacingAndGlyphs">kernel</text>
<text x="1509" y="1698" textLength="117" lengthAdjust="spacingAndGlyphs">Out pixel</text>
<text x="1162" y="1967" textLength="150" lengthAdjust="spacingAndGlyphs">convolution</text>
</g>
<!-- input grid -->
<g transform="matrix(1,-.555,.0135,1,1089,1732)">
<rect width="213" height="222" fill="#a6a6a6" stroke="#777" stroke-width="3"/>
<rect x="35.500" y="37" width="142" height="148" fill="#fff"/>
<path d="M35.500 0V222M71 0V222M106.500 0V222M142 0V222M177.500 0V222M0 37H213M0 74H213M0 111H213M0 148H213M0 185H213" stroke="#444" stroke-width="2"/>
<path d="M35.500 37V148M71 37V148M106.500 37V148M142 37V148M35.500 37H142M35.500 74H142M35.500 111H142M35.500 148H142" stroke="#3a9ad9" stroke-width="3" fill="none"/>
<g class="r m" font-size="30" fill="#333" style="font-style:normal">
<text x="18 53 89 124 160 195" y="28">000000</text><text x="18 53 89 124 160 195" y="213">000000</text>
<text x="18" y="65">0</text><text x="18" y="102">0</text><text x="18" y="139">0</text><text x="18" y="176">0</text>
<text x="195" y="65">0</text><text x="195" y="102">0</text><text x="195" y="139">0</text><text x="195" y="176">0</text>
<text x="53" y="65">1</text><text x="89" y="65">8</text><text x="124" y="65">3</text>
<text x="53" y="102">2</text><text x="89" y="102">8</text><text x="124" y="102">2</text>
<text x="53" y="139">3</text><text x="89" y="139">8</text><text x="124" y="139">1</text>
</g>
<rect x="71" y="74" width="35.500" height="37" fill="none" stroke="#e00" stroke-width="3"/>
<path d="M160 55h.1M160 92h.1M160 129h.1M160 166h.1M53 166h.1M89 166h.1M124 166h.1" stroke="#000" stroke-width="6" stroke-linecap="square"/>
</g>
<path d="M1245 1691L1415 1740M1128 1750L1308 1802M1128 1864L1308 1912" stroke="#2e86d0" stroke-width="4" fill="none"/>
<!-- kernel -->
<g transform="matrix(1,-.58,0,1,1308,1802)">
<rect width="107" height="110" fill="#d0e6f6" stroke="#3a9ad9" stroke-width="3"/>
<path d="M35.700 0V110M71.300 0V110M0 36.700H107M0 73.300H107" stroke="#3a9ad9" stroke-width="3"/>
<g class="r m" font-size="30" fill="#333" style="font-weight:normal">
<text x="18" y="29">0</text><text x="53" y="29">-1</text><text x="89" y="29">0</text>
<text x="18" y="66">-1</text><text x="53" y="66">4</text><text x="89" y="66">-1</text>
<text x="18" y="102">0</text><text x="53" y="102">-1</text><text x="89" y="102">0</text>
</g></g>
<path d="M1415 1740L1491 1785M1308 1802L1459 1817M1415 1857L1459 1851M1308 1912L1459 1870" stroke="#e00" stroke-width="4" fill="none"/>
<!-- out -->
<g transform="matrix(1,-.545,0,1,1459,1802)">
<rect width="143" height="153" fill="#fff" stroke="#333" stroke-width="3"/>
<path d="M35.750 0V153M71.500 0V153M107.250 0V153M0 38.250H143M0 76.500H143M0 114.750H143" stroke="#333" stroke-width="2.500"/>
<path d="M35.750 0V114M71.500 0V114M0 38.250H107M0 76.500H107M0 0V114M0 0H107" stroke="#3a9ad9" stroke-width="3" fill="none"/>
<rect x="35.750" y="38.250" width="35.750" height="38.250" fill="none" stroke="#e00" stroke-width="3"/>
<text class="r m" x="53.600" y="68" font-size="28" fill="#222">12</text>
<path d="M18 19h.1M54 19h.1M89 19h.1M125 19h.1M18 57h.1M89 57h.1M125 57h.1M18 96h.1M54 96h.1M89 96h.1M125 96h.1M18 134h.1M54 134h.1M89 134h.1M125 134h.1" stroke="#000" stroke-width="5" stroke-linecap="square"/>
</g>
<path d="M1190 1915Q1245 1940 1300 1915" fill="none" stroke="#000" stroke-width="4"/>
<path d="M1178 1906L1206 1908L1190 1925zM1313 1906L1285 1908L1301 1925z"/>

<!-- histograms -->
<rect x="1714" y="1673" width="286" height="267" fill="#fff"/><rect x="2062" y="1673" width="285" height="267" fill="#fff"/>
<path d="M1760 1680V1910H1992" fill="none" stroke="#ccc" stroke-width="2"/>
<path d="M1767 1908V1832L1778 1692L1787 1794L1801 1863L1824 1893L1888 1901L1916 1893L1943 1904L1984 1904V1870L1987 1908z" fill="#a0a0a0"/>
<path d="M2108 1680H2345M2108 1680V1910H2345" fill="none" stroke="#aaa" stroke-width="2.500"/>
<path d="M2118 1908V1810L2154 1696L2173 1692L2274 1855L2278 1878L2333 1882V1908z" fill="url(#st)"/>
<text class="b" x="1737" y="1635" font-size="37" textLength="190" lengthAdjust="spacingAndGlyphs">Histogram of</text><text class="b" x="1929" y="1635" font-size="37">I<tspan dy="8" font-size="28">en</tspan></text>
<text class="b" x="2087" y="1635" font-size="37" textLength="190" lengthAdjust="spacingAndGlyphs">Histogram of</text><text class="b" x="2279" y="1635" font-size="37">I<tspan dy="8" font-size="28">eq</tspan></text>
<path class="l" d="M2003 1843H2056" marker-end="url(#a)"/>

<!-- Part C -->
<text class="b" x="2400" y="939" font-size="38" textLength="582" lengthAdjust="spacingAndGlyphs">Part C. Angle-aware Perceptual Loss</text>
<rect x="2391" y="1133" width="616" height="857" rx="105" fill="#f8cbad" stroke="#000" stroke-width="4"/>
<rect x="2477" y="970" width="388" height="142" rx="26" fill="none" stroke="#c55a11" stroke-width="3.500" stroke-dasharray="13 8"/>
<path d="M2477 1048L2405 1180M2867 1052L2975 1150" fill="none" stroke="#c55a11" stroke-width="3.500" stroke-dasharray="13 8"/>
<rect x="2495" y="991" width="163" height="105" rx="18" fill="#f8cbad" class="bx"/>
<rect x="2688" y="991" width="163" height="105" rx="18" fill="#f8cbad" class="bx"/>
<g class="b m" font-size="36">
<text x="2576" y="1036" textLength="56" lengthAdjust="spacingAndGlyphs">Max</text><text x="2575" y="1072" textLength="140" lengthAdjust="spacingAndGlyphs">Magnitude</text>
<text x="2770" y="1036" textLength="118" lengthAdjust="spacingAndGlyphs">MaxMag</text><text x="2769" y="1072" textLength="120" lengthAdjust="spacingAndGlyphs">Direction</text>
</g>
<rect x="3337" y="924" width="452" height="131" rx="24" fill="none" stroke="#2f5597" stroke-width="3.500" stroke-dasharray="13 8"/>
<path d="M3337 989L3071 1071M3790 985L4063 1065" fill="none" stroke="#2f5597" stroke-width="3.500" stroke-dasharray="13 8"/>
<rect x="3352" y="939" width="199" height="106" rx="18" fill="#d9e2f3" class="bx"/>
<rect x="3578" y="939" width="197" height="106" rx="18" fill="#d9e2f3" class="bx"/>
<g class="b m" font-size="38">
<text x="3452" y="980" textLength="132" lengthAdjust="spacingAndGlyphs">Gradient</text><text x="3452" y="1022" textLength="162" lengthAdjust="spacingAndGlyphs">Magnitude</text>
<text x="3677" y="980" textLength="132" lengthAdjust="spacingAndGlyphs">Gradient</text><text x="3676" y="1022" textLength="138" lengthAdjust="spacingAndGlyphs">Direction</text>
</g>
<!-- orange grids -->
<g fill="#e2efd9" stroke="#000" stroke-width="4">
<rect x="2487" y="1174" width="184" height="193"/><rect x="2724" y="1174" width="182" height="194"/>
<rect x="2465" y="1432" width="471" height="288"/>
<rect x="2619" y="1786" width="184" height="194"/>
</g>
<path d="M2578 1174V1367M2487 1271H2671M2815 1174V1368M2724 1271H2906M2560 1432V1720M2654 1432V1720M2747 1432V1720M2842 1432V1720M2465 1528H2936M2465 1623H2936M2711 1786V1980M2619 1884H2803" stroke="#000" stroke-width="4" fill="none"/>
<g class="b" font-size="42">
<text x="2532" y="1159">Grad<tspan dy="6" font-size="32"> ir</tspan></text>
<text x="2764" y="1161">Grad<tspan dy="6" font-size="32"> vi</tspan></text>
<text x="2538" y="1419" textLength="322" lengthAdjust="spacingAndGlyphs">Keep Max Magnitude</text>
<text x="2648" y="1772">Grad<tspan dy="6" font-size="32"> ref</tspan></text>
</g>
<g class="b m" font-size="36">
<text x="2508" y="1491">ir</text><text x="2508" y="1586">vi</text><text x="2508" y="1664">Max</text><text x="2508" y="1702">Mag</text>
</g>
<g fill="none" stroke="#e00" stroke-width="2.500" id="rd">
<path d="M2533 1222L2580 1176" marker-end="url(#ar)"/><path d="M2626 1224L2644 1252" marker-end="url(#ar)"/><path d="M2534 1318L2488 1298" marker-end="url(#ar)"/><path d="M2626 1320L2654 1349" marker-end="url(#ar)"/>
<path d="M2607 1482L2654 1434" marker-end="url(#ar)"/><path d="M2704 1480L2724 1508" marker-end="url(#ar)"/><path d="M2796 1475L2751 1454" marker-end="url(#ar)"/><path d="M2890 1476L2920 1505" marker-end="url(#ar)"/>
<path d="M2607 1675L2654 1628" marker-end="url(#ar)"/><path d="M2794 1666L2750 1647" marker-end="url(#ar)"/>
<path d="M2666 1833L2710 1790" marker-end="url(#ar)"/><path d="M2666 1932L2622 1912" marker-end="url(#ar)"/>
</g>
<g fill="none" stroke="#00d" stroke-width="2.500">
<path d="M2769 1220L2795 1245" marker-end="url(#au)"/><path d="M2862 1221L2817 1270" marker-end="url(#au)"/><path d="M2771 1317L2751 1338" marker-end="url(#au)"/><path d="M2863 1321L2906 1274" marker-end="url(#au)"/>
<path d="M2609 1575L2635 1599" marker-end="url(#au)"/><path d="M2703 1568L2659 1617" marker-end="url(#au)"/><path d="M2795 1578L2775 1598" marker-end="url(#au)"/><path d="M2892 1575L2934 1531" marker-end="url(#au)"/>
<path d="M2703 1669L2659 1719" marker-end="url(#au)"/><path d="M2894 1669L2938 1623" marker-end="url(#au)"/>
<path d="M2757 1832L2712 1882" marker-end="url(#au)"/><path d="M2757 1936L2801 1890" marker-end="url(#au)"/>
</g>
<path d="M2470 1313C2430 1318 2409 1335 2409 1365C2410 1395 2430 1412 2455 1418L2453 1425L2470 1411L2453 1393L2453 1402C2430 1396 2414 1385 2414 1370C2414 1345 2440 1332 2470 1330z" fill="url(#cg)" stroke="#1f3864" stroke-width="3"/>
<path d="M2921 1305C2960 1310 2986 1330 2986 1358C2986 1385 2975 1400 2952 1408L2952 1423L2924 1404L2952 1385L2952 1392C2965 1385 2970 1372 2968 1358C2965 1340 2945 1330 2921 1328z" fill="url(#cg2)" stroke="#7f7f7f" stroke-width="2.500"/>
<path d="M2462 1772H2488V1856Q2488 1876 2510 1876H2530V1862L2564 1892L2530 1918V1904H2510Q2462 1904 2462 1860z" fill="#fff5e6" stroke="#999" stroke-width="3"/>

<!-- blue panel -->
<rect x="3012" y="1064" width="1091" height="495" rx="78" fill="#d9e2f3" stroke="#000" stroke-width="4"/>
<rect x="3029" y="1177" width="256" height="271" fill="#bfbfbf" stroke="#000" stroke-width="3"/>
<rect x="3080" y="1231" width="154" height="162" fill="#e2efd9"/>
<path d="M3080 1177V1448M3131 1177V1448M3183 1177V1448M3234 1177V1448M3029 1231H3285M3029 1285H3285M3029 1339H3285M3029 1393H3285" stroke="#000" stroke-width="3"/>
<g class="s m" font-size="42">
<text x="3054 3105 3157 3208 3260" y="1219">00000</text><text x="3054 3105 3157 3208 3260" y="1435">00000</text>
<text x="3054" y="1273">0</text><text x="3260" y="1273">0</text><text x="3054" y="1327">0</text><text x="3260" y="1327">0</text><text x="3054" y="1381">0</text><text x="3260" y="1381">0</text>
</g>
<g class="r m" font-size="42" style="font-weight:normal">
<text x="3105" y="1270">p<tspan dy="6" font-size="30">1</tspan></text><text x="3157" y="1270">p<tspan dy="6" font-size="30">2</tspan></text><text x="3208" y="1270">p<tspan dy="6" font-size="30">3</tspan></text>
<text x="3105" y="1324">p<tspan dy="6" font-size="30">4</tspan></text><text x="3157" y="1324">p<tspan dy="6" font-size="30">5</tspan></text><text x="3208" y="1324">p<tspan dy="6" font-size="30">6</tspan></text>
<text x="3105" y="1378">p<tspan dy="6" font-size="30">7</tspan></text><text x="3157" y="1378">p<tspan dy="6" font-size="30">8</tspan></text><text x="3208" y="1378">p<tspan dy="6" font-size="30">9</tspan></text>
</g>
<!-- sobel -->
<rect x="3374" y="1152" width="142" height="163" fill="#fadce1"/><rect x="3421" y="1152" width="48" height="163" fill="#ffc000"/>
<rect x="3373" y="1382" width="142" height="163" fill="#fadce1"/><rect x="3373" y="1436" width="142" height="54" fill="#ffc000"/>
<rect x="3569" y="1151" width="183" height="160" fill="#e2efd9"/><rect x="3569" y="1383" width="184" height="160" fill="#e2efd9"/>
<path d="M3374 1152H3516V1315H3374zM3421 1152V1315M3469 1152V1315M3374 1206H3516M3374 1261H3516M3373 1382H3515V1545H3373zM3420 1382V1545M3468 1382V1545M3373 1436H3515M3373 1490H3515M3569 1151H3752V1311H3569zM3630 1151V1311M3691 1151V1311M3569 1204H3752M3569 1258H3752M3569 1383H3753V1543H3569zM3630 1383V1543M3691 1383V1543M3569 1436H3753M3569 1490H3753" fill="none" stroke="#000" stroke-width="3.500"/>
<g class="s m" font-size="42">
<text x="3398" y="1194">-1</text><text x="3445" y="1194">0</text><text x="3492" y="1194">1</text>
<text x="3398" y="1248">-2</text><text x="3445" y="1248">0</text><text x="3492" y="1248">2</text>
<text x="3398" y="1303">-1</text><text x="3445" y="1303">0</text><text x="3492" y="1303">1</text>
<text x="3397" y="1424">-1</text><text x="3444" y="1424">-2</text><text x="3491" y="1424">-1</text>
<text x="3397" y="1478">0</text><text x="3444" y="1478">0</text><text x="3491" y="1478">0</text>
<text x="3397" y="1532">1</text><text x="3444" y="1532">2</text><text x="3491" y="1532">1</text>
<text x="3542" y="1246">=</text><text x="3544" y="1476">=</text>
</g>
<g class="r m" font-size="40">
<text x="3600" y="1192">G<tspan dy="6" font-size="28" font-weight="normal">x1</tspan></text><text x="3661" y="1192">G<tspan dy="6" font-size="28">x2</tspan></text><text x="3722" y="1192">G<tspan dy="6" font-size="28">x3</tspan></text>
<text x="3600" y="1246">G<tspan dy="6" font-size="28">x4</tspan></text><text x="3661" y="1246">G<tspan dy="6" font-size="28">x5</tspan></text><text x="3722" y="1246">G<tspan dy="6" font-size="28">x6</tspan></text>
<text x="3600" y="1299">G<tspan dy="6" font-size="28">x7</tspan></text><text x="3661" y="1299">G<tspan dy="6" font-size="28">x8</tspan></text><text x="3722" y="1299">G<tspan dy="6" font-size="28">x9</tspan></text>
<text x="3600" y="1424">G<tspan dy="6" font-size="28">y1</tspan></text><text x="3661" y="1424">G<tspan dy="6" font-size="28">y2</tspan></text><text x="3722" y="1424">G<tspan dy="6" font-size="28">y3</tspan></text>
<text x="3600" y="1478">G<tspan dy="6" font-size="28">y4</tspan></text><text x="3661" y="1478">G<tspan dy="6" font-size="28">y5</tspan></text><text x="3722" y="1478">G<tspan dy="6" font-size="28">y6</tspan></text>
<text x="3600" y="1532">G<tspan dy="6" font-size="28">y7</tspan></text><text x="3661" y="1532">G<tspan dy="6" font-size="28">y8</tspan></text><text x="3722" y="1532">G<tspan dy="6" font-size="28">y9</tspan></text>
</g>
<g class="b" font-size="40">
<text transform="translate(3062,1130) rotate(-9)" textLength="184" lengthAdjust="spacingAndGlyphs">convolution</text>
<text transform="translate(3057,1497) rotate(6)" textLength="186" lengthAdjust="spacingAndGlyphs">convolution</text>
<text x="3395" y="1133">Sobel<tspan dy="8" font-size="30">x</tspan></text>
<text x="3640" y="1130">G<tspan dy="8" font-size="30">x</tspan></text>
<text x="3390" y="1360">Sobel<tspan dy="8" font-size="30">y</tspan></text>
<text x="3640" y="1360">G<tspan dy="8" font-size="30">y</tspan></text>
<text x="3785" y="1140">Mag =</text>
<text x="3770" y="1222" textLength="254" lengthAdjust="spacingAndGlyphs">Angle = atan2(</text>
<text x="3888" y="1308">Grad</text>
<text x="3943" y="1139" font-size="36">G<tspan dy="8" font-size="26">x</tspan><tspan dy="-22" dx="-13" font-size="26">2</tspan><tspan dy="14"> + </tspan>G<tspan dy="8" font-size="26">y</tspan><tspan dy="-22" dx="-13" font-size="26">2</tspan></text>
<text x="4038" y="1192" font-size="36">G<tspan dy="8" font-size="26">y</tspan></text>
<text x="4038" y="1241" font-size="36">G<tspan dy="8" font-size="26">x</tspan></text>
<text x="4080" y="1222">)</text>
</g>
<path d="M3917 1146L3928 1167L3941 1090H4065" fill="none" stroke="#000" stroke-width="3"/>
<path d="M4035 1211H4086" stroke="#000" stroke-width="3"/>
<path d="M3172 1180Q3190 1122 3258 1132Q3322 1142 3353 1143" fill="none" stroke="#000" stroke-width="3.500" marker-end="url(#a)"/>
<path d="M3164 1459Q3210 1495 3265 1508Q3320 1516 3347 1487" fill="none" stroke="#000" stroke-width="3.500" marker-end="url(#a)"/>
<rect x="3819" y="1330" width="210" height="212" fill="#e2efd9" stroke="#222" stroke-width="3"/>
<path d="M3917 1330V1542M3819 1437H4029" stroke="#000" stroke-width="3"/>
<path d="M3926 1436L4027 1334" stroke="#000" stroke-width="4.500" marker-end="url(#a)"/>
<path d="M3922 1430L3960 1385L3955 1378M3960 1385L3975 1358" fill="none" stroke="#000" stroke-width="2.500"/>
<path d="M3958 1436Q3966 1424 3956 1412" fill="none" stroke="#000" stroke-width="2.500"/>
<text class="b" transform="translate(3928,1366) rotate(-50)" font-size="28">Mag</text>
<text class="b" x="3966" y="1413" font-size="26">angle</text>

<!-- charts -->
<path d="M3031 1957V1616" stroke="#000" stroke-width="4" fill="none" marker-end="url(#a)"/>
<path d="M3031 1957H3379" stroke="#000" stroke-width="5" fill="none" marker-end="url(#a)"/>
<path d="M3031 1703A263 254 0 0 1 3294 1957" fill="none" stroke="#000" stroke-width="3.500"/>
<path d="M3031 1957L3165 1740" stroke="#e00" stroke-width="4" fill="none" marker-end="url(#are)"/>
<path d="M3031 1957L3150 1893" stroke="#4472c4" stroke-width="4" fill="none" marker-end="url(#al)"/>
<path d="M3150 1889L3257 1831" stroke="#000" stroke-width="5"/>
<path d="M3144 1884L3140 1872L3180 1852L3184 1842L3192 1845L3238 1818L3232 1808" fill="none" stroke="#000" stroke-width="2"/>
<text class="b pu" x="3048" y="1667" font-size="38">ℒ<tspan dy="7" font-size="28">Mag</tspan><tspan dy="-7" font-size="38"> = ||Mag</tspan><tspan dy="7" font-size="28">f</tspan><tspan dy="-7" font-size="38"> − Mag</tspan><tspan dy="7" font-size="28">ref</tspan><tspan dy="-7" font-size="38">||</tspan><tspan dy="7" font-size="28">1</tspan></text>
<text class="b" fill="#e00" transform="translate(3066,1858) rotate(-58)" font-size="36">Mag<tspan dy="7" font-size="26">ref</tspan></text>
<text class="b" fill="#4472c4" x="3093" y="1946" font-size="36">Mag<tspan dy="7" font-size="26">f</tspan></text>
<text class="b pu" x="3152" y="1815" font-size="32">ℒ<tspan dy="6" font-size="24">Mag</tspan></text>

<path d="M3513 1957V1616" stroke="#000" stroke-width="4" fill="none" marker-end="url(#a)"/>
<path d="M3513 1957H3862" stroke="#000" stroke-width="6" fill="none" marker-end="url(#a)"/>
<path d="M3513 1703A263 254 0 0 1 3776 1957" fill="none" stroke="#000" stroke-width="3.500"/>
<path d="M3513 1957L3644 1740" stroke="#e00" stroke-width="4" fill="none" marker-end="url(#are)"/>
<path d="M3513 1957L3631 1893" stroke="#4472c4" stroke-width="4" fill="none" marker-end="url(#al)"/>
<path d="M3567 1908Q3580 1930 3577 1957" fill="none" stroke="#e00" stroke-width="4"/>
<path d="M3599 1919Q3612 1937 3612 1957" fill="none" stroke="#4472c4" stroke-width="3.500"/>
<path d="M3649 1883Q3668 1852 3622 1806" fill="none" stroke="#000" stroke-width="3" stroke-dasharray="3 4" marker-end="url(#as)"/>
<text class="b pu" x="3522" y="1662" font-size="38" textLength="586" lengthAdjust="spacingAndGlyphs">ℒ<tspan dy="7" font-size="28">Angle</tspan><tspan dy="-7" font-size="38"> = 1 − CosSim(Grad</tspan><tspan dy="7" font-size="28">f</tspan><tspan dy="-7" font-size="38">, Grad</tspan><tspan dy="7" font-size="28">ref</tspan><tspan dy="-7" font-size="38">)</tspan></text>
<text class="b" fill="#e00" transform="translate(3562,1912) rotate(-48)" font-size="34">Angle<tspan dy="7" font-size="24">ref</tspan></text>
<text class="b pu" x="3661" y="1854" font-size="32">ℒ<tspan dy="6" font-size="26">Angle</tspan></text>
<text class="b" fill="#4472c4" x="3623" y="1938" font-size="34">Angle<tspan dy="7" font-size="24">f</tspan></text>
</svg>
</body></html>
